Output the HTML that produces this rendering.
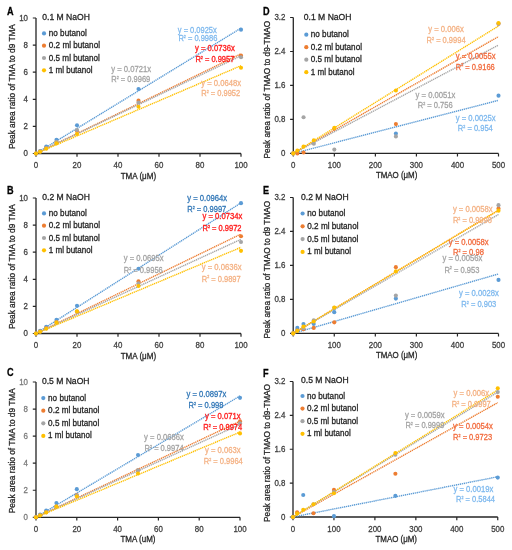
<!DOCTYPE html>
<html><head><meta charset="utf-8"><style>
html,body{margin:0;padding:0;background:#fff;width:512px;height:550px;overflow:hidden}
svg{display:block}
text{font-family:"Liberation Sans",sans-serif;stroke-width:0.28px}
svg{filter:blur(0.5px)}
</style></head><body>
<svg width="512" height="550" viewBox="0 0 512 550">
<rect width="512" height="550" fill="#fff"/>
<text transform="translate(7.00,14.80) scale(0.86,1)" x="0" y="0" font-size="10.6" fill="#000" stroke="#000" text-anchor="start" font-weight="bold">A</text>
<text transform="translate(15.00,86.60) rotate(-90)" x="0" y="0" font-size="8.8" fill="#262626" stroke="#262626" text-anchor="middle" textLength="125" lengthAdjust="spacingAndGlyphs">Peak area ratio of TMA to d9 TMA</text>
<path d="M36.00,18.00 V153.50 H241.00" fill="none" stroke="#262626" stroke-width="1.3"/>
<path d="M32.80,153.50 H36.00 M32.80,126.40 H36.00 M32.80,99.30 H36.00 M32.80,72.20 H36.00 M32.80,45.10 H36.00 M32.80,18.00 H36.00 M36.00,153.50 V156.70 M77.00,153.50 V156.70 M118.00,153.50 V156.70 M159.00,153.50 V156.70 M200.00,153.50 V156.70 M241.00,153.50 V156.70" fill="none" stroke="#262626" stroke-width="1.2"/>
<text transform="translate(28.00,156.10) scale(0.92,1)" x="0" y="0" font-size="8.6" fill="#404040" stroke="#404040" text-anchor="end">0</text>
<text transform="translate(28.00,129.00) scale(0.92,1)" x="0" y="0" font-size="8.6" fill="#404040" stroke="#404040" text-anchor="end">2</text>
<text transform="translate(28.00,101.90) scale(0.92,1)" x="0" y="0" font-size="8.6" fill="#404040" stroke="#404040" text-anchor="end">4</text>
<text transform="translate(28.00,74.80) scale(0.92,1)" x="0" y="0" font-size="8.6" fill="#404040" stroke="#404040" text-anchor="end">6</text>
<text transform="translate(28.00,47.70) scale(0.92,1)" x="0" y="0" font-size="8.6" fill="#404040" stroke="#404040" text-anchor="end">8</text>
<text transform="translate(28.00,20.60) scale(0.92,1)" x="0" y="0" font-size="8.6" fill="#404040" stroke="#404040" text-anchor="end">10</text>
<text transform="translate(36.00,168.10) scale(0.92,1)" x="0" y="0" font-size="8.6" fill="#404040" stroke="#404040" text-anchor="middle">0</text>
<text transform="translate(77.00,168.10) scale(0.92,1)" x="0" y="0" font-size="8.6" fill="#404040" stroke="#404040" text-anchor="middle">20</text>
<text transform="translate(118.00,168.10) scale(0.92,1)" x="0" y="0" font-size="8.6" fill="#404040" stroke="#404040" text-anchor="middle">40</text>
<text transform="translate(159.00,168.10) scale(0.92,1)" x="0" y="0" font-size="8.6" fill="#404040" stroke="#404040" text-anchor="middle">60</text>
<text transform="translate(200.00,168.10) scale(0.92,1)" x="0" y="0" font-size="8.6" fill="#404040" stroke="#404040" text-anchor="middle">80</text>
<text transform="translate(241.00,168.10) scale(0.92,1)" x="0" y="0" font-size="8.6" fill="#404040" stroke="#404040" text-anchor="middle">100</text>
<text x="138.40" y="179.10" font-size="8.7" fill="#262626" stroke="#262626" text-anchor="middle" textLength="35.5" lengthAdjust="spacingAndGlyphs">TMA (μM)</text>
<text x="42.25" y="20.20" font-size="8.6" fill="#262626" stroke="#262626" text-anchor="start" textLength="47.6" lengthAdjust="spacingAndGlyphs">0.1 M NaOH</text>
<circle cx="44" cy="33.40" r="2.1" fill="#5b9bd5"/>
<text x="48.80" y="35.90" font-size="8.2" fill="#262626" stroke="#262626" text-anchor="start" textLength="38" lengthAdjust="spacingAndGlyphs">no butanol</text>
<circle cx="44" cy="45.70" r="2.1" fill="#ed7d31"/>
<text x="48.80" y="48.20" font-size="8.2" fill="#262626" stroke="#262626" text-anchor="start" textLength="51.2" lengthAdjust="spacingAndGlyphs">0.2 ml butanol</text>
<circle cx="44" cy="58.00" r="2.1" fill="#a5a5a5"/>
<text x="48.80" y="60.50" font-size="8.2" fill="#262626" stroke="#262626" text-anchor="start" textLength="51.1" lengthAdjust="spacingAndGlyphs">0.5 ml butanol</text>
<circle cx="44" cy="70.30" r="2.1" fill="#ffc000"/>
<text x="48.80" y="72.80" font-size="8.2" fill="#262626" stroke="#262626" text-anchor="start" textLength="43.7" lengthAdjust="spacingAndGlyphs">1 ml butanol</text>
<line x1="36.00" y1="153.50" x2="241.00" y2="28.16" stroke="#5b9bd5" stroke-width="1.4" stroke-dasharray="1.3 0.7"/>
<line x1="36.00" y1="153.50" x2="241.00" y2="53.77" stroke="#ed7d31" stroke-width="1.4" stroke-dasharray="1.3 0.7"/>
<line x1="36.00" y1="153.50" x2="241.00" y2="55.80" stroke="#a5a5a5" stroke-width="1.4" stroke-dasharray="1.3 0.7"/>
<line x1="36.00" y1="153.50" x2="241.00" y2="65.70" stroke="#ffc000" stroke-width="1.4" stroke-dasharray="1.3 0.7"/>
<circle cx="36.00" cy="153.50" r="2.05" fill="#5b9bd5"/>
<circle cx="40.10" cy="151.06" r="2.05" fill="#5b9bd5"/>
<circle cx="46.25" cy="146.59" r="2.05" fill="#5b9bd5"/>
<circle cx="56.50" cy="139.81" r="2.05" fill="#5b9bd5"/>
<circle cx="77.00" cy="125.18" r="2.05" fill="#5b9bd5"/>
<circle cx="138.50" cy="89.00" r="2.05" fill="#5b9bd5"/>
<circle cx="241.00" cy="29.65" r="2.05" fill="#5b9bd5"/>
<circle cx="36.00" cy="153.50" r="2.05" fill="#ed7d31"/>
<circle cx="40.10" cy="151.47" r="2.05" fill="#ed7d31"/>
<circle cx="46.25" cy="148.08" r="2.05" fill="#ed7d31"/>
<circle cx="56.50" cy="141.98" r="2.05" fill="#ed7d31"/>
<circle cx="77.00" cy="131.01" r="2.05" fill="#ed7d31"/>
<circle cx="138.50" cy="100.66" r="2.05" fill="#ed7d31"/>
<circle cx="241.00" cy="55.53" r="2.05" fill="#ed7d31"/>
<circle cx="36.00" cy="153.50" r="2.05" fill="#a5a5a5"/>
<circle cx="40.10" cy="151.47" r="2.05" fill="#a5a5a5"/>
<circle cx="46.25" cy="148.08" r="2.05" fill="#a5a5a5"/>
<circle cx="56.50" cy="141.71" r="2.05" fill="#a5a5a5"/>
<circle cx="77.00" cy="130.06" r="2.05" fill="#a5a5a5"/>
<circle cx="138.50" cy="102.55" r="2.05" fill="#a5a5a5"/>
<circle cx="241.00" cy="57.30" r="2.05" fill="#a5a5a5"/>
<circle cx="36.00" cy="153.50" r="2.05" fill="#ffc000"/>
<circle cx="40.10" cy="151.74" r="2.05" fill="#ffc000"/>
<circle cx="46.25" cy="148.76" r="2.05" fill="#ffc000"/>
<circle cx="56.50" cy="143.34" r="2.05" fill="#ffc000"/>
<circle cx="77.00" cy="133.99" r="2.05" fill="#ffc000"/>
<circle cx="138.50" cy="106.75" r="2.05" fill="#ffc000"/>
<circle cx="241.00" cy="67.73" r="2.05" fill="#ffc000"/>
<text x="177.80" y="32.90" font-size="8.9" fill="#7db8ee" stroke="#7db8ee" text-anchor="start" textLength="39" lengthAdjust="spacingAndGlyphs">y = 0.0925x</text>
<text x="178.40" y="41.30" font-size="8.9" fill="#7db8ee" stroke="#7db8ee" text-anchor="start" textLength="39" lengthAdjust="spacingAndGlyphs">R<tspan font-size="4.3" dy="-3.1">2</tspan><tspan dy="3.1"> = 0.9986</tspan></text>
<text x="195.00" y="50.90" font-size="8.9" fill="#ff1f1f" stroke="#ff1f1f" text-anchor="start" textLength="39.8" lengthAdjust="spacingAndGlyphs" style="stroke-width:0.36px">y = 0.0736x</text>
<text x="195.40" y="62.10" font-size="8.9" fill="#ff1f1f" stroke="#ff1f1f" text-anchor="start" textLength="39" lengthAdjust="spacingAndGlyphs" style="stroke-width:0.36px">R<tspan font-size="4.3" dy="-3.1">2</tspan><tspan dy="3.1"> = 0.9957</tspan></text>
<text x="111.25" y="72.20" font-size="8.9" fill="#a3a3a3" stroke="#a3a3a3" text-anchor="start" textLength="39.8" lengthAdjust="spacingAndGlyphs">y = 0.0721x</text>
<text x="111.25" y="82.30" font-size="8.9" fill="#a3a3a3" stroke="#a3a3a3" text-anchor="start" textLength="39" lengthAdjust="spacingAndGlyphs">R<tspan font-size="4.3" dy="-3.1">2</tspan><tspan dy="3.1"> = 0.9969</tspan></text>
<text x="201.20" y="85.90" font-size="8.9" fill="#f4b183" stroke="#f4b183" text-anchor="start" textLength="39.8" lengthAdjust="spacingAndGlyphs">y = 0.0648x</text>
<text x="201.20" y="96.40" font-size="8.9" fill="#f4b183" stroke="#f4b183" text-anchor="start" textLength="39" lengthAdjust="spacingAndGlyphs">R<tspan font-size="4.3" dy="-3.1">2</tspan><tspan dy="3.1"> = 0.9952</tspan></text>
<text transform="translate(7.00,193.70) scale(0.86,1)" x="0" y="0" font-size="10.6" fill="#000" stroke="#000" text-anchor="start" font-weight="bold">B</text>
<text transform="translate(15.00,266.60) rotate(-90)" x="0" y="0" font-size="8.8" fill="#262626" stroke="#262626" text-anchor="middle" textLength="125" lengthAdjust="spacingAndGlyphs">Peak area ratio of TMA to d9 TMA</text>
<path d="M36.00,198.00 V333.50 H241.00" fill="none" stroke="#262626" stroke-width="1.3"/>
<path d="M32.80,333.50 H36.00 M32.80,306.40 H36.00 M32.80,279.30 H36.00 M32.80,252.20 H36.00 M32.80,225.10 H36.00 M32.80,198.00 H36.00 M36.00,333.50 V336.70 M77.00,333.50 V336.70 M118.00,333.50 V336.70 M159.00,333.50 V336.70 M200.00,333.50 V336.70 M241.00,333.50 V336.70" fill="none" stroke="#262626" stroke-width="1.2"/>
<text transform="translate(28.00,336.10) scale(0.92,1)" x="0" y="0" font-size="8.6" fill="#404040" stroke="#404040" text-anchor="end">0</text>
<text transform="translate(28.00,309.00) scale(0.92,1)" x="0" y="0" font-size="8.6" fill="#404040" stroke="#404040" text-anchor="end">2</text>
<text transform="translate(28.00,281.90) scale(0.92,1)" x="0" y="0" font-size="8.6" fill="#404040" stroke="#404040" text-anchor="end">4</text>
<text transform="translate(28.00,254.80) scale(0.92,1)" x="0" y="0" font-size="8.6" fill="#404040" stroke="#404040" text-anchor="end">6</text>
<text transform="translate(28.00,227.70) scale(0.92,1)" x="0" y="0" font-size="8.6" fill="#404040" stroke="#404040" text-anchor="end">8</text>
<text transform="translate(28.00,200.60) scale(0.92,1)" x="0" y="0" font-size="8.6" fill="#404040" stroke="#404040" text-anchor="end">10</text>
<text transform="translate(36.00,348.10) scale(0.92,1)" x="0" y="0" font-size="8.6" fill="#404040" stroke="#404040" text-anchor="middle">0</text>
<text transform="translate(77.00,348.10) scale(0.92,1)" x="0" y="0" font-size="8.6" fill="#404040" stroke="#404040" text-anchor="middle">20</text>
<text transform="translate(118.00,348.10) scale(0.92,1)" x="0" y="0" font-size="8.6" fill="#404040" stroke="#404040" text-anchor="middle">40</text>
<text transform="translate(159.00,348.10) scale(0.92,1)" x="0" y="0" font-size="8.6" fill="#404040" stroke="#404040" text-anchor="middle">60</text>
<text transform="translate(200.00,348.10) scale(0.92,1)" x="0" y="0" font-size="8.6" fill="#404040" stroke="#404040" text-anchor="middle">80</text>
<text transform="translate(241.00,348.10) scale(0.92,1)" x="0" y="0" font-size="8.6" fill="#404040" stroke="#404040" text-anchor="middle">100</text>
<text x="138.40" y="359.10" font-size="8.7" fill="#262626" stroke="#262626" text-anchor="middle" textLength="35.5" lengthAdjust="spacingAndGlyphs">TMA (μM)</text>
<text x="42.25" y="200.20" font-size="8.6" fill="#262626" stroke="#262626" text-anchor="start" textLength="47.6" lengthAdjust="spacingAndGlyphs">0.2 M NaOH</text>
<circle cx="44" cy="213.40" r="2.1" fill="#5b9bd5"/>
<text x="48.80" y="215.90" font-size="8.2" fill="#262626" stroke="#262626" text-anchor="start" textLength="38" lengthAdjust="spacingAndGlyphs">no butanol</text>
<circle cx="44" cy="225.70" r="2.1" fill="#ed7d31"/>
<text x="48.80" y="228.20" font-size="8.2" fill="#262626" stroke="#262626" text-anchor="start" textLength="51.2" lengthAdjust="spacingAndGlyphs">0.2 ml butanol</text>
<circle cx="44" cy="238.00" r="2.1" fill="#a5a5a5"/>
<text x="48.80" y="240.50" font-size="8.2" fill="#262626" stroke="#262626" text-anchor="start" textLength="51.1" lengthAdjust="spacingAndGlyphs">0.5 ml butanol</text>
<circle cx="44" cy="250.30" r="2.1" fill="#ffc000"/>
<text x="48.80" y="252.80" font-size="8.2" fill="#262626" stroke="#262626" text-anchor="start" textLength="43.7" lengthAdjust="spacingAndGlyphs">1 ml butanol</text>
<line x1="36.00" y1="333.50" x2="241.00" y2="202.88" stroke="#5b9bd5" stroke-width="1.4" stroke-dasharray="1.3 0.7"/>
<line x1="36.00" y1="333.50" x2="241.00" y2="234.04" stroke="#ed7d31" stroke-width="1.4" stroke-dasharray="1.3 0.7"/>
<line x1="36.00" y1="333.50" x2="241.00" y2="239.33" stroke="#a5a5a5" stroke-width="1.4" stroke-dasharray="1.3 0.7"/>
<line x1="36.00" y1="333.50" x2="241.00" y2="247.32" stroke="#ffc000" stroke-width="1.4" stroke-dasharray="1.3 0.7"/>
<circle cx="36.00" cy="333.50" r="2.05" fill="#5b9bd5"/>
<circle cx="40.10" cy="330.79" r="2.05" fill="#5b9bd5"/>
<circle cx="46.25" cy="326.73" r="2.05" fill="#5b9bd5"/>
<circle cx="56.50" cy="319.81" r="2.05" fill="#5b9bd5"/>
<circle cx="77.00" cy="305.72" r="2.05" fill="#5b9bd5"/>
<circle cx="138.50" cy="268.73" r="2.05" fill="#5b9bd5"/>
<circle cx="241.00" cy="203.15" r="2.05" fill="#5b9bd5"/>
<circle cx="36.00" cy="333.50" r="2.05" fill="#ed7d31"/>
<circle cx="40.10" cy="331.47" r="2.05" fill="#ed7d31"/>
<circle cx="46.25" cy="328.08" r="2.05" fill="#ed7d31"/>
<circle cx="56.50" cy="321.98" r="2.05" fill="#ed7d31"/>
<circle cx="77.00" cy="311.55" r="2.05" fill="#ed7d31"/>
<circle cx="138.50" cy="281.33" r="2.05" fill="#ed7d31"/>
<circle cx="241.00" cy="236.21" r="2.05" fill="#ed7d31"/>
<circle cx="36.00" cy="333.50" r="2.05" fill="#a5a5a5"/>
<circle cx="40.10" cy="331.47" r="2.05" fill="#a5a5a5"/>
<circle cx="46.25" cy="328.35" r="2.05" fill="#a5a5a5"/>
<circle cx="56.50" cy="322.39" r="2.05" fill="#a5a5a5"/>
<circle cx="77.00" cy="311.82" r="2.05" fill="#a5a5a5"/>
<circle cx="138.50" cy="283.37" r="2.05" fill="#a5a5a5"/>
<circle cx="241.00" cy="242.04" r="2.05" fill="#a5a5a5"/>
<circle cx="36.00" cy="333.50" r="2.05" fill="#ffc000"/>
<circle cx="40.10" cy="331.74" r="2.05" fill="#ffc000"/>
<circle cx="46.25" cy="328.76" r="2.05" fill="#ffc000"/>
<circle cx="56.50" cy="322.66" r="2.05" fill="#ffc000"/>
<circle cx="77.00" cy="311.41" r="2.05" fill="#ffc000"/>
<circle cx="138.50" cy="286.07" r="2.05" fill="#ffc000"/>
<circle cx="241.00" cy="250.84" r="2.05" fill="#ffc000"/>
<text x="187.30" y="200.80" font-size="8.9" fill="#2e75b6" stroke="#2e75b6" text-anchor="start" textLength="39.8" lengthAdjust="spacingAndGlyphs">y = 0.0964x</text>
<text x="187.30" y="211.70" font-size="8.9" fill="#2e75b6" stroke="#2e75b6" text-anchor="start" textLength="39" lengthAdjust="spacingAndGlyphs">R<tspan font-size="4.3" dy="-3.1">2</tspan><tspan dy="3.1"> = 0.9997</tspan></text>
<text x="202.50" y="219.30" font-size="8.9" fill="#ff1f1f" stroke="#ff1f1f" text-anchor="start" textLength="39.8" lengthAdjust="spacingAndGlyphs" style="stroke-width:0.36px">y = 0.0734x</text>
<text x="202.50" y="231.30" font-size="8.9" fill="#ff1f1f" stroke="#ff1f1f" text-anchor="start" textLength="39" lengthAdjust="spacingAndGlyphs" style="stroke-width:0.36px">R<tspan font-size="4.3" dy="-3.1">2</tspan><tspan dy="3.1"> = 0.9972</tspan></text>
<text x="123.80" y="261.20" font-size="8.9" fill="#a3a3a3" stroke="#a3a3a3" text-anchor="start" textLength="39.8" lengthAdjust="spacingAndGlyphs">y = 0.0695x</text>
<text x="123.80" y="272.70" font-size="8.9" fill="#a3a3a3" stroke="#a3a3a3" text-anchor="start" textLength="39" lengthAdjust="spacingAndGlyphs">R<tspan font-size="4.3" dy="-3.1">2</tspan><tspan dy="3.1"> = 0.9956</tspan></text>
<text x="201.70" y="270.10" font-size="8.9" fill="#f4b183" stroke="#f4b183" text-anchor="start" textLength="39.8" lengthAdjust="spacingAndGlyphs">y = 0.0636x</text>
<text x="201.70" y="281.50" font-size="8.9" fill="#f4b183" stroke="#f4b183" text-anchor="start" textLength="39" lengthAdjust="spacingAndGlyphs">R<tspan font-size="4.3" dy="-3.1">2</tspan><tspan dy="3.1"> = 0.9897</tspan></text>
<text transform="translate(7.00,376.40) scale(0.86,1)" x="0" y="0" font-size="10.6" fill="#000" stroke="#000" text-anchor="start" font-weight="bold">C</text>
<text transform="translate(15.00,450.80) rotate(-90)" x="0" y="0" font-size="8.8" fill="#262626" stroke="#262626" text-anchor="middle" textLength="125" lengthAdjust="spacingAndGlyphs">Peak area ratio of TMA to d9 TMA</text>
<path d="M36.00,382.00 V517.30 H240.00" fill="none" stroke="#262626" stroke-width="1.3"/>
<path d="M32.80,517.30 H36.00 M32.80,490.24 H36.00 M32.80,463.18 H36.00 M32.80,436.12 H36.00 M32.80,409.06 H36.00 M32.80,382.00 H36.00 M36.00,517.30 V520.50 M76.80,517.30 V520.50 M117.60,517.30 V520.50 M158.40,517.30 V520.50 M199.20,517.30 V520.50 M240.00,517.30 V520.50" fill="none" stroke="#262626" stroke-width="1.2"/>
<text transform="translate(28.00,519.90) scale(0.92,1)" x="0" y="0" font-size="8.6" fill="#7a7a7a" stroke="#7a7a7a" text-anchor="end">0</text>
<text transform="translate(28.00,492.84) scale(0.92,1)" x="0" y="0" font-size="8.6" fill="#7a7a7a" stroke="#7a7a7a" text-anchor="end">2</text>
<text transform="translate(28.00,465.78) scale(0.92,1)" x="0" y="0" font-size="8.6" fill="#7a7a7a" stroke="#7a7a7a" text-anchor="end">4</text>
<text transform="translate(28.00,438.72) scale(0.92,1)" x="0" y="0" font-size="8.6" fill="#7a7a7a" stroke="#7a7a7a" text-anchor="end">6</text>
<text transform="translate(28.00,411.66) scale(0.92,1)" x="0" y="0" font-size="8.6" fill="#7a7a7a" stroke="#7a7a7a" text-anchor="end">8</text>
<text transform="translate(28.00,384.60) scale(0.92,1)" x="0" y="0" font-size="8.6" fill="#7a7a7a" stroke="#7a7a7a" text-anchor="end">10</text>
<text transform="translate(36.00,531.80) scale(0.92,1)" x="0" y="0" font-size="8.6" fill="#404040" stroke="#404040" text-anchor="middle">0</text>
<text transform="translate(76.80,531.80) scale(0.92,1)" x="0" y="0" font-size="8.6" fill="#404040" stroke="#404040" text-anchor="middle">20</text>
<text transform="translate(117.60,531.80) scale(0.92,1)" x="0" y="0" font-size="8.6" fill="#404040" stroke="#404040" text-anchor="middle">40</text>
<text transform="translate(158.40,531.80) scale(0.92,1)" x="0" y="0" font-size="8.6" fill="#404040" stroke="#404040" text-anchor="middle">60</text>
<text transform="translate(199.20,531.80) scale(0.92,1)" x="0" y="0" font-size="8.6" fill="#404040" stroke="#404040" text-anchor="middle">80</text>
<text transform="translate(240.00,531.80) scale(0.92,1)" x="0" y="0" font-size="8.6" fill="#404040" stroke="#404040" text-anchor="middle">100</text>
<text x="138.00" y="541.60" font-size="8.7" fill="#262626" stroke="#262626" text-anchor="middle" textLength="35" lengthAdjust="spacingAndGlyphs">TMA (uM)</text>
<text x="41.90" y="384.00" font-size="8.6" fill="#262626" stroke="#262626" text-anchor="start" textLength="47.6" lengthAdjust="spacingAndGlyphs">0.5 M NaOH</text>
<circle cx="43.3" cy="398.10" r="2.1" fill="#5b9bd5"/>
<text x="48.10" y="400.60" font-size="8.2" fill="#262626" stroke="#262626" text-anchor="start" textLength="38" lengthAdjust="spacingAndGlyphs">no butanol</text>
<circle cx="43.3" cy="410.70" r="2.1" fill="#ed7d31"/>
<text x="48.10" y="413.20" font-size="8.2" fill="#262626" stroke="#262626" text-anchor="start" textLength="51.2" lengthAdjust="spacingAndGlyphs">0.2 ml butanol</text>
<circle cx="43.3" cy="423.30" r="2.1" fill="#a5a5a5"/>
<text x="48.10" y="425.80" font-size="8.2" fill="#262626" stroke="#262626" text-anchor="start" textLength="51.1" lengthAdjust="spacingAndGlyphs">0.5 ml butanol</text>
<circle cx="43.3" cy="435.90" r="2.1" fill="#ffc000"/>
<text x="48.10" y="438.40" font-size="8.2" fill="#262626" stroke="#262626" text-anchor="start" textLength="43.7" lengthAdjust="spacingAndGlyphs">1 ml butanol</text>
<line x1="36.00" y1="517.30" x2="240.00" y2="395.94" stroke="#5b9bd5" stroke-width="1.4" stroke-dasharray="1.3 0.7"/>
<line x1="36.00" y1="517.30" x2="240.00" y2="421.24" stroke="#ed7d31" stroke-width="1.4" stroke-dasharray="1.3 0.7"/>
<line x1="36.00" y1="517.30" x2="240.00" y2="424.48" stroke="#a5a5a5" stroke-width="1.4" stroke-dasharray="1.3 0.7"/>
<line x1="36.00" y1="517.30" x2="240.00" y2="432.06" stroke="#ffc000" stroke-width="1.4" stroke-dasharray="1.3 0.7"/>
<circle cx="36.00" cy="517.30" r="2.05" fill="#5b9bd5"/>
<circle cx="40.08" cy="514.59" r="2.05" fill="#5b9bd5"/>
<circle cx="46.20" cy="510.53" r="2.05" fill="#5b9bd5"/>
<circle cx="56.40" cy="503.09" r="2.05" fill="#5b9bd5"/>
<circle cx="76.80" cy="489.16" r="2.05" fill="#5b9bd5"/>
<circle cx="138.00" cy="455.06" r="2.05" fill="#5b9bd5"/>
<circle cx="240.00" cy="397.83" r="2.05" fill="#5b9bd5"/>
<circle cx="36.00" cy="517.30" r="2.05" fill="#ed7d31"/>
<circle cx="40.08" cy="515.27" r="2.05" fill="#ed7d31"/>
<circle cx="46.20" cy="512.16" r="2.05" fill="#ed7d31"/>
<circle cx="56.40" cy="506.48" r="2.05" fill="#ed7d31"/>
<circle cx="76.80" cy="494.98" r="2.05" fill="#ed7d31"/>
<circle cx="138.00" cy="470.22" r="2.05" fill="#ed7d31"/>
<circle cx="240.00" cy="421.24" r="2.05" fill="#ed7d31"/>
<circle cx="36.00" cy="517.30" r="2.05" fill="#a5a5a5"/>
<circle cx="40.08" cy="515.27" r="2.05" fill="#a5a5a5"/>
<circle cx="46.20" cy="512.16" r="2.05" fill="#a5a5a5"/>
<circle cx="56.40" cy="506.48" r="2.05" fill="#a5a5a5"/>
<circle cx="76.80" cy="495.25" r="2.05" fill="#a5a5a5"/>
<circle cx="138.00" cy="470.22" r="2.05" fill="#a5a5a5"/>
<circle cx="240.00" cy="423.27" r="2.05" fill="#a5a5a5"/>
<circle cx="36.00" cy="517.30" r="2.05" fill="#ffc000"/>
<circle cx="40.08" cy="515.54" r="2.05" fill="#ffc000"/>
<circle cx="46.20" cy="512.56" r="2.05" fill="#ffc000"/>
<circle cx="56.40" cy="506.48" r="2.05" fill="#ffc000"/>
<circle cx="76.80" cy="496.46" r="2.05" fill="#ffc000"/>
<circle cx="138.00" cy="473.46" r="2.05" fill="#ffc000"/>
<circle cx="240.00" cy="433.41" r="2.05" fill="#ffc000"/>
<text x="186.50" y="396.70" font-size="8.9" fill="#2e75b6" stroke="#2e75b6" text-anchor="start" textLength="39.8" lengthAdjust="spacingAndGlyphs">y = 0.0897x</text>
<text x="188.50" y="407.70" font-size="8.9" fill="#2e75b6" stroke="#2e75b6" text-anchor="start" textLength="35" lengthAdjust="spacingAndGlyphs">R<tspan font-size="4.3" dy="-3.1">2</tspan><tspan dy="3.1"> = 0.998</tspan></text>
<text x="205.00" y="418.80" font-size="8.9" fill="#ff1f1f" stroke="#ff1f1f" text-anchor="start" textLength="35.5" lengthAdjust="spacingAndGlyphs" style="stroke-width:0.36px">y = 0.071x</text>
<text x="203.20" y="429.70" font-size="8.9" fill="#ff1f1f" stroke="#ff1f1f" text-anchor="start" textLength="39" lengthAdjust="spacingAndGlyphs" style="stroke-width:0.36px">R<tspan font-size="4.3" dy="-3.1">2</tspan><tspan dy="3.1"> = 0.9974</tspan></text>
<text x="144.10" y="439.90" font-size="8.9" fill="#a3a3a3" stroke="#a3a3a3" text-anchor="start" textLength="39.8" lengthAdjust="spacingAndGlyphs">y = 0.0686x</text>
<text x="144.60" y="451.30" font-size="8.9" fill="#a3a3a3" stroke="#a3a3a3" text-anchor="start" textLength="39" lengthAdjust="spacingAndGlyphs">R<tspan font-size="4.3" dy="-3.1">2</tspan><tspan dy="3.1"> = 0.9974</tspan></text>
<text x="205.00" y="453.30" font-size="8.9" fill="#f4b183" stroke="#f4b183" text-anchor="start" textLength="35.5" lengthAdjust="spacingAndGlyphs">y = 0.063x</text>
<text x="203.80" y="464.00" font-size="8.9" fill="#f4b183" stroke="#f4b183" text-anchor="start" textLength="39" lengthAdjust="spacingAndGlyphs">R<tspan font-size="4.3" dy="-3.1">2</tspan><tspan dy="3.1"> = 0.9964</tspan></text>
<text transform="translate(263.00,14.80) scale(0.86,1)" x="0" y="0" font-size="10.6" fill="#000" stroke="#000" text-anchor="start" font-weight="bold">D</text>
<text transform="translate(270.30,89.70) rotate(-90)" x="0" y="0" font-size="8.8" fill="#262626" stroke="#262626" text-anchor="middle" textLength="137.8" lengthAdjust="spacingAndGlyphs">Peak area ratio of TMAO to d9-TMAO</text>
<path d="M293.30,17.50 V153.40 H498.50" fill="none" stroke="#262626" stroke-width="1.3"/>
<path d="M290.10,153.40 H293.30 M290.10,119.43 H293.30 M290.10,85.45 H293.30 M290.10,51.48 H293.30 M290.10,17.50 H293.30 M293.30,153.40 V156.60 M334.34,153.40 V156.60 M375.38,153.40 V156.60 M416.42,153.40 V156.60 M457.46,153.40 V156.60 M498.50,153.40 V156.60" fill="none" stroke="#262626" stroke-width="1.2"/>
<text transform="translate(285.40,156.20) scale(0.92,1)" x="0" y="0" font-size="8.6" fill="#404040" stroke="#404040" text-anchor="end">0</text>
<text transform="translate(285.40,122.23) scale(0.92,1)" x="0" y="0" font-size="8.6" fill="#404040" stroke="#404040" text-anchor="end">0.8</text>
<text transform="translate(285.40,88.25) scale(0.92,1)" x="0" y="0" font-size="8.6" fill="#404040" stroke="#404040" text-anchor="end">1.6</text>
<text transform="translate(285.40,54.28) scale(0.92,1)" x="0" y="0" font-size="8.6" fill="#404040" stroke="#404040" text-anchor="end">2.4</text>
<text transform="translate(285.40,20.30) scale(0.92,1)" x="0" y="0" font-size="8.6" fill="#404040" stroke="#404040" text-anchor="end">3.2</text>
<text transform="translate(293.30,168.00) scale(0.92,1)" x="0" y="0" font-size="8.6" fill="#404040" stroke="#404040" text-anchor="middle">0</text>
<text transform="translate(334.34,168.00) scale(0.92,1)" x="0" y="0" font-size="8.6" fill="#404040" stroke="#404040" text-anchor="middle">100</text>
<text transform="translate(375.38,168.00) scale(0.92,1)" x="0" y="0" font-size="8.6" fill="#404040" stroke="#404040" text-anchor="middle">200</text>
<text transform="translate(416.42,168.00) scale(0.92,1)" x="0" y="0" font-size="8.6" fill="#404040" stroke="#404040" text-anchor="middle">300</text>
<text transform="translate(457.46,168.00) scale(0.92,1)" x="0" y="0" font-size="8.6" fill="#404040" stroke="#404040" text-anchor="middle">400</text>
<text transform="translate(498.50,168.00) scale(0.92,1)" x="0" y="0" font-size="8.6" fill="#404040" stroke="#404040" text-anchor="middle">500</text>
<text x="396.60" y="178.10" font-size="8.7" fill="#262626" stroke="#262626" text-anchor="middle" textLength="41.4" lengthAdjust="spacingAndGlyphs">TMAO (μM)</text>
<text x="303.80" y="19.70" font-size="8.6" fill="#262626" stroke="#262626" text-anchor="start" textLength="47.7" lengthAdjust="spacingAndGlyphs">0.1 M NaOH</text>
<circle cx="306.3" cy="34.70" r="2.1" fill="#5b9bd5"/>
<text x="310.80" y="37.20" font-size="8.2" fill="#262626" stroke="#262626" text-anchor="start" textLength="38" lengthAdjust="spacingAndGlyphs">no butanol</text>
<circle cx="306.3" cy="47.20" r="2.1" fill="#ed7d31"/>
<text x="310.80" y="49.70" font-size="8.2" fill="#262626" stroke="#262626" text-anchor="start" textLength="51.2" lengthAdjust="spacingAndGlyphs">0.2 ml butanol</text>
<circle cx="306.3" cy="59.70" r="2.1" fill="#a5a5a5"/>
<text x="310.80" y="62.20" font-size="8.2" fill="#262626" stroke="#262626" text-anchor="start" textLength="51.1" lengthAdjust="spacingAndGlyphs">0.5 ml butanol</text>
<circle cx="306.3" cy="72.20" r="2.1" fill="#ffc000"/>
<text x="310.80" y="74.70" font-size="8.2" fill="#262626" stroke="#262626" text-anchor="start" textLength="43.7" lengthAdjust="spacingAndGlyphs">1 ml butanol</text>
<line x1="293.30" y1="153.40" x2="498.50" y2="100.31" stroke="#5b9bd5" stroke-width="1.4" stroke-dasharray="1.3 0.7"/>
<line x1="293.30" y1="153.40" x2="498.50" y2="36.61" stroke="#ed7d31" stroke-width="1.4" stroke-dasharray="1.3 0.7"/>
<line x1="293.30" y1="153.40" x2="498.50" y2="45.10" stroke="#a5a5a5" stroke-width="1.4" stroke-dasharray="1.3 0.7"/>
<line x1="293.30" y1="153.40" x2="498.50" y2="25.99" stroke="#ffc000" stroke-width="1.4" stroke-dasharray="1.3 0.7"/>
<circle cx="293.30" cy="153.40" r="2.05" fill="#5b9bd5"/>
<circle cx="395.90" cy="133.44" r="2.05" fill="#5b9bd5"/>
<circle cx="498.50" cy="95.64" r="2.05" fill="#5b9bd5"/>
<circle cx="293.30" cy="153.40" r="2.05" fill="#ed7d31"/>
<circle cx="297.40" cy="153.40" r="2.05" fill="#ed7d31"/>
<circle cx="303.56" cy="152.55" r="2.05" fill="#ed7d31"/>
<circle cx="334.34" cy="128.77" r="2.05" fill="#ed7d31"/>
<circle cx="395.90" cy="124.10" r="2.05" fill="#ed7d31"/>
<circle cx="498.50" cy="23.87" r="2.05" fill="#ed7d31"/>
<circle cx="293.30" cy="153.40" r="2.05" fill="#a5a5a5"/>
<circle cx="303.56" cy="117.30" r="2.05" fill="#a5a5a5"/>
<circle cx="313.82" cy="143.63" r="2.05" fill="#a5a5a5"/>
<circle cx="334.34" cy="149.58" r="2.05" fill="#a5a5a5"/>
<circle cx="395.90" cy="136.41" r="2.05" fill="#a5a5a5"/>
<circle cx="498.50" cy="23.87" r="2.05" fill="#a5a5a5"/>
<circle cx="293.30" cy="153.40" r="2.05" fill="#ffc000"/>
<circle cx="297.40" cy="150.43" r="2.05" fill="#ffc000"/>
<circle cx="303.56" cy="146.61" r="2.05" fill="#ffc000"/>
<circle cx="313.82" cy="140.23" r="2.05" fill="#ffc000"/>
<circle cx="334.34" cy="127.92" r="2.05" fill="#ffc000"/>
<circle cx="395.90" cy="90.55" r="2.05" fill="#ffc000"/>
<circle cx="498.50" cy="23.02" r="2.05" fill="#ffc000"/>
<text x="428.30" y="31.70" font-size="8.9" fill="#f4b183" stroke="#f4b183" text-anchor="start" textLength="35.5" lengthAdjust="spacingAndGlyphs">y = 0.006x</text>
<text x="426.60" y="42.70" font-size="8.9" fill="#f4b183" stroke="#f4b183" text-anchor="start" textLength="39" lengthAdjust="spacingAndGlyphs">R<tspan font-size="4.3" dy="-3.1">2</tspan><tspan dy="3.1"> = 0.9994</tspan></text>
<text x="455.80" y="58.70" font-size="8.9" fill="#f26a3c" stroke="#f26a3c" text-anchor="start" textLength="39.8" lengthAdjust="spacingAndGlyphs" style="stroke-width:0.3px">y = 0.0055x</text>
<text x="455.80" y="69.50" font-size="8.9" fill="#f26a3c" stroke="#f26a3c" text-anchor="start" textLength="39" lengthAdjust="spacingAndGlyphs" style="stroke-width:0.3px">R<tspan font-size="4.3" dy="-3.1">2</tspan><tspan dy="3.1"> = 0.9166</tspan></text>
<text x="415.60" y="98.00" font-size="8.9" fill="#a3a3a3" stroke="#a3a3a3" text-anchor="start" textLength="39.8" lengthAdjust="spacingAndGlyphs">y = 0.0051x</text>
<text x="417.70" y="108.20" font-size="8.9" fill="#a3a3a3" stroke="#a3a3a3" text-anchor="start" textLength="35" lengthAdjust="spacingAndGlyphs">R<tspan font-size="4.3" dy="-3.1">2</tspan><tspan dy="3.1"> = 0.756</tspan></text>
<text x="455.80" y="120.90" font-size="8.9" fill="#7db8ee" stroke="#7db8ee" text-anchor="start" textLength="39.8" lengthAdjust="spacingAndGlyphs">y = 0.0025x</text>
<text x="457.80" y="131.40" font-size="8.9" fill="#7db8ee" stroke="#7db8ee" text-anchor="start" textLength="35" lengthAdjust="spacingAndGlyphs">R<tspan font-size="4.3" dy="-3.1">2</tspan><tspan dy="3.1"> = 0.954</tspan></text>
<text transform="translate(263.00,194.30) scale(0.86,1)" x="0" y="0" font-size="10.6" fill="#000" stroke="#000" text-anchor="start" font-weight="bold">E</text>
<text transform="translate(270.30,269.70) rotate(-90)" x="0" y="0" font-size="8.8" fill="#262626" stroke="#262626" text-anchor="middle" textLength="137.8" lengthAdjust="spacingAndGlyphs">Peak area ratio of TMAO to d9 TMAO</text>
<path d="M293.20,197.50 V333.40 H498.50" fill="none" stroke="#262626" stroke-width="1.3"/>
<path d="M290.00,333.40 H293.20 M290.00,299.42 H293.20 M290.00,265.45 H293.20 M290.00,231.47 H293.20 M290.00,197.50 H293.20 M293.20,333.40 V336.60 M334.26,333.40 V336.60 M375.32,333.40 V336.60 M416.38,333.40 V336.60 M457.44,333.40 V336.60 M498.50,333.40 V336.60" fill="none" stroke="#262626" stroke-width="1.2"/>
<text transform="translate(285.40,336.20) scale(0.92,1)" x="0" y="0" font-size="8.6" fill="#404040" stroke="#404040" text-anchor="end">0</text>
<text transform="translate(285.40,302.22) scale(0.92,1)" x="0" y="0" font-size="8.6" fill="#404040" stroke="#404040" text-anchor="end">0.8</text>
<text transform="translate(285.40,268.25) scale(0.92,1)" x="0" y="0" font-size="8.6" fill="#404040" stroke="#404040" text-anchor="end">1.6</text>
<text transform="translate(285.40,234.27) scale(0.92,1)" x="0" y="0" font-size="8.6" fill="#404040" stroke="#404040" text-anchor="end">2.4</text>
<text transform="translate(285.40,200.30) scale(0.92,1)" x="0" y="0" font-size="8.6" fill="#404040" stroke="#404040" text-anchor="end">3.2</text>
<text transform="translate(334.26,348.00) scale(0.92,1)" x="0" y="0" font-size="8.6" fill="#404040" stroke="#404040" text-anchor="middle">100</text>
<text transform="translate(375.32,348.00) scale(0.92,1)" x="0" y="0" font-size="8.6" fill="#404040" stroke="#404040" text-anchor="middle">200</text>
<text transform="translate(416.38,348.00) scale(0.92,1)" x="0" y="0" font-size="8.6" fill="#404040" stroke="#404040" text-anchor="middle">300</text>
<text transform="translate(457.44,348.00) scale(0.92,1)" x="0" y="0" font-size="8.6" fill="#404040" stroke="#404040" text-anchor="middle">400</text>
<text transform="translate(498.50,348.00) scale(0.92,1)" x="0" y="0" font-size="8.6" fill="#404040" stroke="#404040" text-anchor="middle">500</text>
<text x="396.60" y="358.10" font-size="8.7" fill="#262626" stroke="#262626" text-anchor="middle" textLength="41.4" lengthAdjust="spacingAndGlyphs">TMAO (μM)</text>
<text x="301.00" y="199.80" font-size="8.6" fill="#262626" stroke="#262626" text-anchor="start" textLength="47.7" lengthAdjust="spacingAndGlyphs">0.2 M NaOH</text>
<circle cx="302.6" cy="213.50" r="2.1" fill="#5b9bd5"/>
<text x="307.30" y="216.00" font-size="8.2" fill="#262626" stroke="#262626" text-anchor="start" textLength="38" lengthAdjust="spacingAndGlyphs">no butanol</text>
<circle cx="302.6" cy="226.30" r="2.1" fill="#ed7d31"/>
<text x="307.30" y="228.80" font-size="8.2" fill="#262626" stroke="#262626" text-anchor="start" textLength="51.2" lengthAdjust="spacingAndGlyphs">0.2 ml butanol</text>
<circle cx="302.6" cy="239.10" r="2.1" fill="#a5a5a5"/>
<text x="307.30" y="241.60" font-size="8.2" fill="#262626" stroke="#262626" text-anchor="start" textLength="51.1" lengthAdjust="spacingAndGlyphs">0.5 ml butanol</text>
<circle cx="302.6" cy="251.90" r="2.1" fill="#ffc000"/>
<text x="307.30" y="254.40" font-size="8.2" fill="#262626" stroke="#262626" text-anchor="start" textLength="43.7" lengthAdjust="spacingAndGlyphs">1 ml butanol</text>
<line x1="293.20" y1="333.40" x2="498.50" y2="273.94" stroke="#5b9bd5" stroke-width="1.4" stroke-dasharray="1.3 0.7"/>
<line x1="293.20" y1="333.40" x2="498.50" y2="210.24" stroke="#ed7d31" stroke-width="1.4" stroke-dasharray="1.3 0.7"/>
<line x1="293.20" y1="333.40" x2="498.50" y2="214.49" stroke="#a5a5a5" stroke-width="1.4" stroke-dasharray="1.3 0.7"/>
<line x1="293.20" y1="333.40" x2="498.50" y2="210.24" stroke="#ffc000" stroke-width="1.4" stroke-dasharray="1.3 0.7"/>
<circle cx="293.20" cy="333.40" r="2.05" fill="#5b9bd5"/>
<circle cx="297.31" cy="327.88" r="2.05" fill="#5b9bd5"/>
<circle cx="303.46" cy="324.06" r="2.05" fill="#5b9bd5"/>
<circle cx="313.73" cy="324.06" r="2.05" fill="#5b9bd5"/>
<circle cx="334.26" cy="312.17" r="2.05" fill="#5b9bd5"/>
<circle cx="395.85" cy="298.58" r="2.05" fill="#5b9bd5"/>
<circle cx="498.50" cy="279.89" r="2.05" fill="#5b9bd5"/>
<circle cx="293.20" cy="333.40" r="2.05" fill="#ed7d31"/>
<circle cx="297.31" cy="330.43" r="2.05" fill="#ed7d31"/>
<circle cx="303.46" cy="329.15" r="2.05" fill="#ed7d31"/>
<circle cx="313.73" cy="327.88" r="2.05" fill="#ed7d31"/>
<circle cx="334.26" cy="322.36" r="2.05" fill="#ed7d31"/>
<circle cx="395.85" cy="267.15" r="2.05" fill="#ed7d31"/>
<circle cx="498.50" cy="208.54" r="2.05" fill="#ed7d31"/>
<circle cx="293.20" cy="333.40" r="2.05" fill="#a5a5a5"/>
<circle cx="297.31" cy="330.43" r="2.05" fill="#a5a5a5"/>
<circle cx="303.46" cy="328.30" r="2.05" fill="#a5a5a5"/>
<circle cx="313.73" cy="320.23" r="2.05" fill="#a5a5a5"/>
<circle cx="334.26" cy="307.92" r="2.05" fill="#a5a5a5"/>
<circle cx="395.85" cy="295.60" r="2.05" fill="#a5a5a5"/>
<circle cx="498.50" cy="205.14" r="2.05" fill="#a5a5a5"/>
<circle cx="293.20" cy="333.40" r="2.05" fill="#ffc000"/>
<circle cx="297.31" cy="330.85" r="2.05" fill="#ffc000"/>
<circle cx="303.46" cy="326.60" r="2.05" fill="#ffc000"/>
<circle cx="313.73" cy="321.51" r="2.05" fill="#ffc000"/>
<circle cx="334.26" cy="307.49" r="2.05" fill="#ffc000"/>
<circle cx="395.85" cy="271.40" r="2.05" fill="#ffc000"/>
<circle cx="498.50" cy="210.67" r="2.05" fill="#ffc000"/>
<text x="452.90" y="212.40" font-size="8.9" fill="#f4b183" stroke="#f4b183" text-anchor="start" textLength="39.8" lengthAdjust="spacingAndGlyphs">y = 0.0058x</text>
<text x="452.90" y="222.70" font-size="8.9" fill="#f4b183" stroke="#f4b183" text-anchor="start" textLength="39" lengthAdjust="spacingAndGlyphs">R<tspan font-size="4.3" dy="-3.1">2</tspan><tspan dy="3.1"> = 0.9998</tspan></text>
<text x="448.80" y="244.70" font-size="8.9" fill="#f26a3c" stroke="#f26a3c" text-anchor="start" textLength="39.8" lengthAdjust="spacingAndGlyphs" style="stroke-width:0.3px">y = 0.0058x</text>
<text x="452.90" y="255.00" font-size="8.9" fill="#f26a3c" stroke="#f26a3c" text-anchor="start" textLength="31" lengthAdjust="spacingAndGlyphs" style="stroke-width:0.3px">R<tspan font-size="4.3" dy="-3.1">2</tspan><tspan dy="3.1"> = 0.98</tspan></text>
<text x="442.50" y="261.10" font-size="8.9" fill="#a3a3a3" stroke="#a3a3a3" text-anchor="start" textLength="39.8" lengthAdjust="spacingAndGlyphs">y = 0.0056x</text>
<text x="444.40" y="272.50" font-size="8.9" fill="#a3a3a3" stroke="#a3a3a3" text-anchor="start" textLength="35" lengthAdjust="spacingAndGlyphs">R<tspan font-size="4.3" dy="-3.1">2</tspan><tspan dy="3.1"> = 0.953</tspan></text>
<text x="459.00" y="296.10" font-size="8.9" fill="#7db8ee" stroke="#7db8ee" text-anchor="start" textLength="39.8" lengthAdjust="spacingAndGlyphs">y = 0.0028x</text>
<text x="461.30" y="307.00" font-size="8.9" fill="#7db8ee" stroke="#7db8ee" text-anchor="start" textLength="35" lengthAdjust="spacingAndGlyphs">R<tspan font-size="4.3" dy="-3.1">2</tspan><tspan dy="3.1"> = 0.903</tspan></text>
<text transform="translate(263.00,377.30) scale(0.86,1)" x="0" y="0" font-size="10.6" fill="#000" stroke="#000" text-anchor="start" font-weight="bold">F</text>
<text transform="translate(270.30,453.00) rotate(-90)" x="0" y="0" font-size="8.8" fill="#262626" stroke="#262626" text-anchor="middle" textLength="137.8" lengthAdjust="spacingAndGlyphs">Peak area ratio of TMAO to d9-TMAO</text>
<path d="M293.00,381.50 V517.00 H497.75" fill="none" stroke="#262626" stroke-width="1.3"/>
<path d="M289.80,517.00 H293.00 M289.80,483.12 H293.00 M289.80,449.25 H293.00 M289.80,415.38 H293.00 M289.80,381.50 H293.00 M293.00,517.00 V520.20 M333.95,517.00 V520.20 M374.90,517.00 V520.20 M415.85,517.00 V520.20 M456.80,517.00 V520.20 M497.75,517.00 V520.20" fill="none" stroke="#262626" stroke-width="1.2"/>
<text transform="translate(285.40,519.80) scale(0.92,1)" x="0" y="0" font-size="8.6" fill="#404040" stroke="#404040" text-anchor="end">0</text>
<text transform="translate(285.40,485.93) scale(0.92,1)" x="0" y="0" font-size="8.6" fill="#404040" stroke="#404040" text-anchor="end">0.8</text>
<text transform="translate(285.40,452.05) scale(0.92,1)" x="0" y="0" font-size="8.6" fill="#404040" stroke="#404040" text-anchor="end">1.6</text>
<text transform="translate(285.40,418.18) scale(0.92,1)" x="0" y="0" font-size="8.6" fill="#404040" stroke="#404040" text-anchor="end">2.4</text>
<text transform="translate(285.40,384.30) scale(0.92,1)" x="0" y="0" font-size="8.6" fill="#404040" stroke="#404040" text-anchor="end">3.2</text>
<text transform="translate(293.00,531.50) scale(0.92,1)" x="0" y="0" font-size="8.6" fill="#404040" stroke="#404040" text-anchor="middle">0</text>
<text transform="translate(333.95,531.50) scale(0.92,1)" x="0" y="0" font-size="8.6" fill="#404040" stroke="#404040" text-anchor="middle">100</text>
<text transform="translate(374.90,531.50) scale(0.92,1)" x="0" y="0" font-size="8.6" fill="#404040" stroke="#404040" text-anchor="middle">200</text>
<text transform="translate(415.85,531.50) scale(0.92,1)" x="0" y="0" font-size="8.6" fill="#404040" stroke="#404040" text-anchor="middle">300</text>
<text transform="translate(456.80,531.50) scale(0.92,1)" x="0" y="0" font-size="8.6" fill="#404040" stroke="#404040" text-anchor="middle">400</text>
<text transform="translate(497.75,531.50) scale(0.92,1)" x="0" y="0" font-size="8.6" fill="#404040" stroke="#404040" text-anchor="middle">500</text>
<text x="396.20" y="541.60" font-size="8.7" fill="#262626" stroke="#262626" text-anchor="middle" textLength="41.4" lengthAdjust="spacingAndGlyphs">TMAO (μM)</text>
<text x="301.00" y="383.30" font-size="8.6" fill="#262626" stroke="#262626" text-anchor="start" textLength="47.7" lengthAdjust="spacingAndGlyphs">0.5 M NaOH</text>
<circle cx="302.5" cy="396.00" r="2.1" fill="#5b9bd5"/>
<text x="307.00" y="398.50" font-size="8.2" fill="#262626" stroke="#262626" text-anchor="start" textLength="38" lengthAdjust="spacingAndGlyphs">no butanol</text>
<circle cx="302.5" cy="408.60" r="2.1" fill="#ed7d31"/>
<text x="307.00" y="411.10" font-size="8.2" fill="#262626" stroke="#262626" text-anchor="start" textLength="51.2" lengthAdjust="spacingAndGlyphs">0.2 ml butanol</text>
<circle cx="302.5" cy="421.20" r="2.1" fill="#a5a5a5"/>
<text x="307.00" y="423.70" font-size="8.2" fill="#262626" stroke="#262626" text-anchor="start" textLength="51.1" lengthAdjust="spacingAndGlyphs">0.5 ml butanol</text>
<circle cx="302.5" cy="433.80" r="2.1" fill="#ffc000"/>
<text x="307.00" y="436.30" font-size="8.2" fill="#262626" stroke="#262626" text-anchor="start" textLength="43.7" lengthAdjust="spacingAndGlyphs">1 ml butanol</text>
<line x1="293.00" y1="517.00" x2="497.75" y2="476.77" stroke="#5b9bd5" stroke-width="1.4" stroke-dasharray="1.3 0.7"/>
<line x1="293.00" y1="517.00" x2="497.75" y2="402.67" stroke="#ed7d31" stroke-width="1.4" stroke-dasharray="1.3 0.7"/>
<line x1="293.00" y1="517.00" x2="497.75" y2="392.09" stroke="#a5a5a5" stroke-width="1.4" stroke-dasharray="1.3 0.7"/>
<line x1="293.00" y1="517.00" x2="497.75" y2="389.97" stroke="#ffc000" stroke-width="1.4" stroke-dasharray="1.3 0.7"/>
<circle cx="293.00" cy="517.00" r="2.05" fill="#5b9bd5"/>
<circle cx="303.24" cy="494.98" r="2.05" fill="#5b9bd5"/>
<circle cx="333.95" cy="516.15" r="2.05" fill="#5b9bd5"/>
<circle cx="395.38" cy="495.83" r="2.05" fill="#5b9bd5"/>
<circle cx="497.75" cy="477.62" r="2.05" fill="#5b9bd5"/>
<circle cx="293.00" cy="517.00" r="2.05" fill="#ed7d31"/>
<circle cx="297.10" cy="512.34" r="2.05" fill="#ed7d31"/>
<circle cx="313.48" cy="513.19" r="2.05" fill="#ed7d31"/>
<circle cx="333.95" cy="489.90" r="2.05" fill="#ed7d31"/>
<circle cx="395.38" cy="473.81" r="2.05" fill="#ed7d31"/>
<circle cx="497.75" cy="396.74" r="2.05" fill="#ed7d31"/>
<circle cx="293.00" cy="517.00" r="2.05" fill="#a5a5a5"/>
<circle cx="313.48" cy="504.30" r="2.05" fill="#a5a5a5"/>
<circle cx="333.95" cy="492.02" r="2.05" fill="#a5a5a5"/>
<circle cx="395.38" cy="454.75" r="2.05" fill="#a5a5a5"/>
<circle cx="497.75" cy="392.09" r="2.05" fill="#a5a5a5"/>
<circle cx="293.00" cy="517.00" r="2.05" fill="#ffc000"/>
<circle cx="297.10" cy="513.61" r="2.05" fill="#ffc000"/>
<circle cx="303.24" cy="509.80" r="2.05" fill="#ffc000"/>
<circle cx="313.48" cy="504.30" r="2.05" fill="#ffc000"/>
<circle cx="333.95" cy="493.29" r="2.05" fill="#ffc000"/>
<circle cx="395.38" cy="453.06" r="2.05" fill="#ffc000"/>
<circle cx="497.75" cy="388.27" r="2.05" fill="#ffc000"/>
<text x="453.60" y="396.10" font-size="8.9" fill="#f4b183" stroke="#f4b183" text-anchor="start" textLength="35.5" lengthAdjust="spacingAndGlyphs">y = 0.006x</text>
<text x="451.80" y="407.00" font-size="8.9" fill="#f4b183" stroke="#f4b183" text-anchor="start" textLength="39" lengthAdjust="spacingAndGlyphs">R<tspan font-size="4.3" dy="-3.1">2</tspan><tspan dy="3.1"> = 0.9997</tspan></text>
<text x="404.90" y="417.90" font-size="8.9" fill="#a3a3a3" stroke="#a3a3a3" text-anchor="start" textLength="39.8" lengthAdjust="spacingAndGlyphs">y = 0.0059x</text>
<text x="405.40" y="428.00" font-size="8.9" fill="#a3a3a3" stroke="#a3a3a3" text-anchor="start" textLength="39" lengthAdjust="spacingAndGlyphs">R<tspan font-size="4.3" dy="-3.1">2</tspan><tspan dy="3.1"> = 0.9999</tspan></text>
<text x="453.10" y="428.50" font-size="8.9" fill="#f26a3c" stroke="#f26a3c" text-anchor="start" textLength="39.8" lengthAdjust="spacingAndGlyphs" style="stroke-width:0.3px">y = 0.0054x</text>
<text x="453.10" y="440.00" font-size="8.9" fill="#f26a3c" stroke="#f26a3c" text-anchor="start" textLength="39" lengthAdjust="spacingAndGlyphs" style="stroke-width:0.3px">R<tspan font-size="4.3" dy="-3.1">2</tspan><tspan dy="3.1"> = 0.9723</tspan></text>
<text x="453.50" y="491.70" font-size="8.9" fill="#7db8ee" stroke="#7db8ee" text-anchor="start" textLength="39.8" lengthAdjust="spacingAndGlyphs">y = 0.0019x</text>
<text x="456.00" y="501.70" font-size="8.9" fill="#7db8ee" stroke="#7db8ee" text-anchor="start" textLength="39" lengthAdjust="spacingAndGlyphs">R<tspan font-size="4.3" dy="-3.1">2</tspan><tspan dy="3.1"> = 0.5844</tspan></text>
</svg></body></html>
